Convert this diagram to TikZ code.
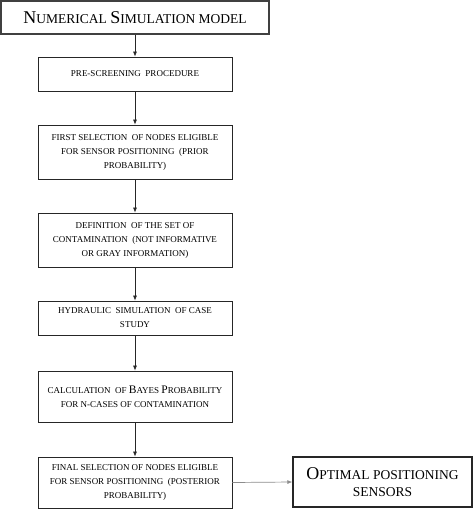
\documentclass[tikz,border=0pt]{standalone}
\usepackage{fontspec}
\setmainfont{Liberation Serif}
\usetikzlibrary{arrows.meta}
\newcommand\bigcp[2]{{\fontsize{#1}{14}\selectfont #2}}
\tikzset{
  stepbox/.style={draw=black!85, line width=0.8pt, rectangle, inner sep=0pt,
    minimum width=194pt, align=center, font=\fontsize{9}{14}\selectfont},
  titlebox/.style={draw=black!75, line width=1.2pt, rectangle, inner sep=0pt, align=center},
  flow/.style={draw=black!85, line width=0.7pt, -{Latex[length=5pt,width=4pt]}}
}
\begin{document}
\begin{tikzpicture}[x=1pt,y=-1pt]
\useasboundingbox (0,0) rectangle (474,512);
\node[titlebox, minimum width=268pt, minimum height=33pt, font=\fontsize{13.5}{16}\selectfont] (top) at (135,17.5)
  {\bigcp{18}{N}UMERICAL \bigcp{18}{S}IMULATION MODEL};
\node[stepbox, minimum height=34pt] (b2) at (135,74) {PRE-SCREENING\ \ PROCEDURE};
\node[stepbox, minimum height=54pt] (b3) at (135,152)
  {FIRST SELECTION\ \ OF NODES ELIGIBLE\\ FOR SENSOR POSITIONING\ \ (PRIOR\\ PROBABILITY)};
\node[stepbox, minimum height=54pt] (b4) at (135,240)
  {DEFINITION\ \ OF THE SET OF\\ CONTAMINATION\ \ (NOT INFORMATIVE\\ OR GRAY INFORMATION)};
\node[stepbox, minimum height=34pt] (b5) at (135,318)
  {HYDRAULIC\ \ SIMULATION\ \ OF CASE\\ STUDY};
\node[stepbox, minimum height=51pt] (b6) at (135,396.5)
  {CALCULATION\ \ OF \bigcp{11.5}{B}AYES \bigcp{11.5}{P}ROBABILITY\\ FOR N-CASES OF CONTAMINATION};
\node[stepbox, minimum height=51pt] (b7) at (135,482.5)
  {FINAL SELECTION OF NODES ELIGIBLE\\ FOR SENSOR POSITIONING\ \ (POSTERIOR\\ PROBABILITY)};
\node[titlebox, draw=black!85, minimum width=179pt, minimum height=50pt, font=\fontsize{13.5}{17}\selectfont] (b8) at (382.5,482)
  {\bigcp{18}{O}PTIMAL POSITIONING\\ SENSORS};
\draw[flow] (top) -- (b2);
\draw[flow] (b2) -- (b3);
\draw[flow] (b3) -- (b4);
\draw[flow] (b4) -- (b5);
\draw[flow] (b5) -- (b6);
\draw[flow] (b6) -- (b7);
\draw[flow, draw=black!45] (b7.east) -- (b8.west);
\end{tikzpicture}
\end{document}
